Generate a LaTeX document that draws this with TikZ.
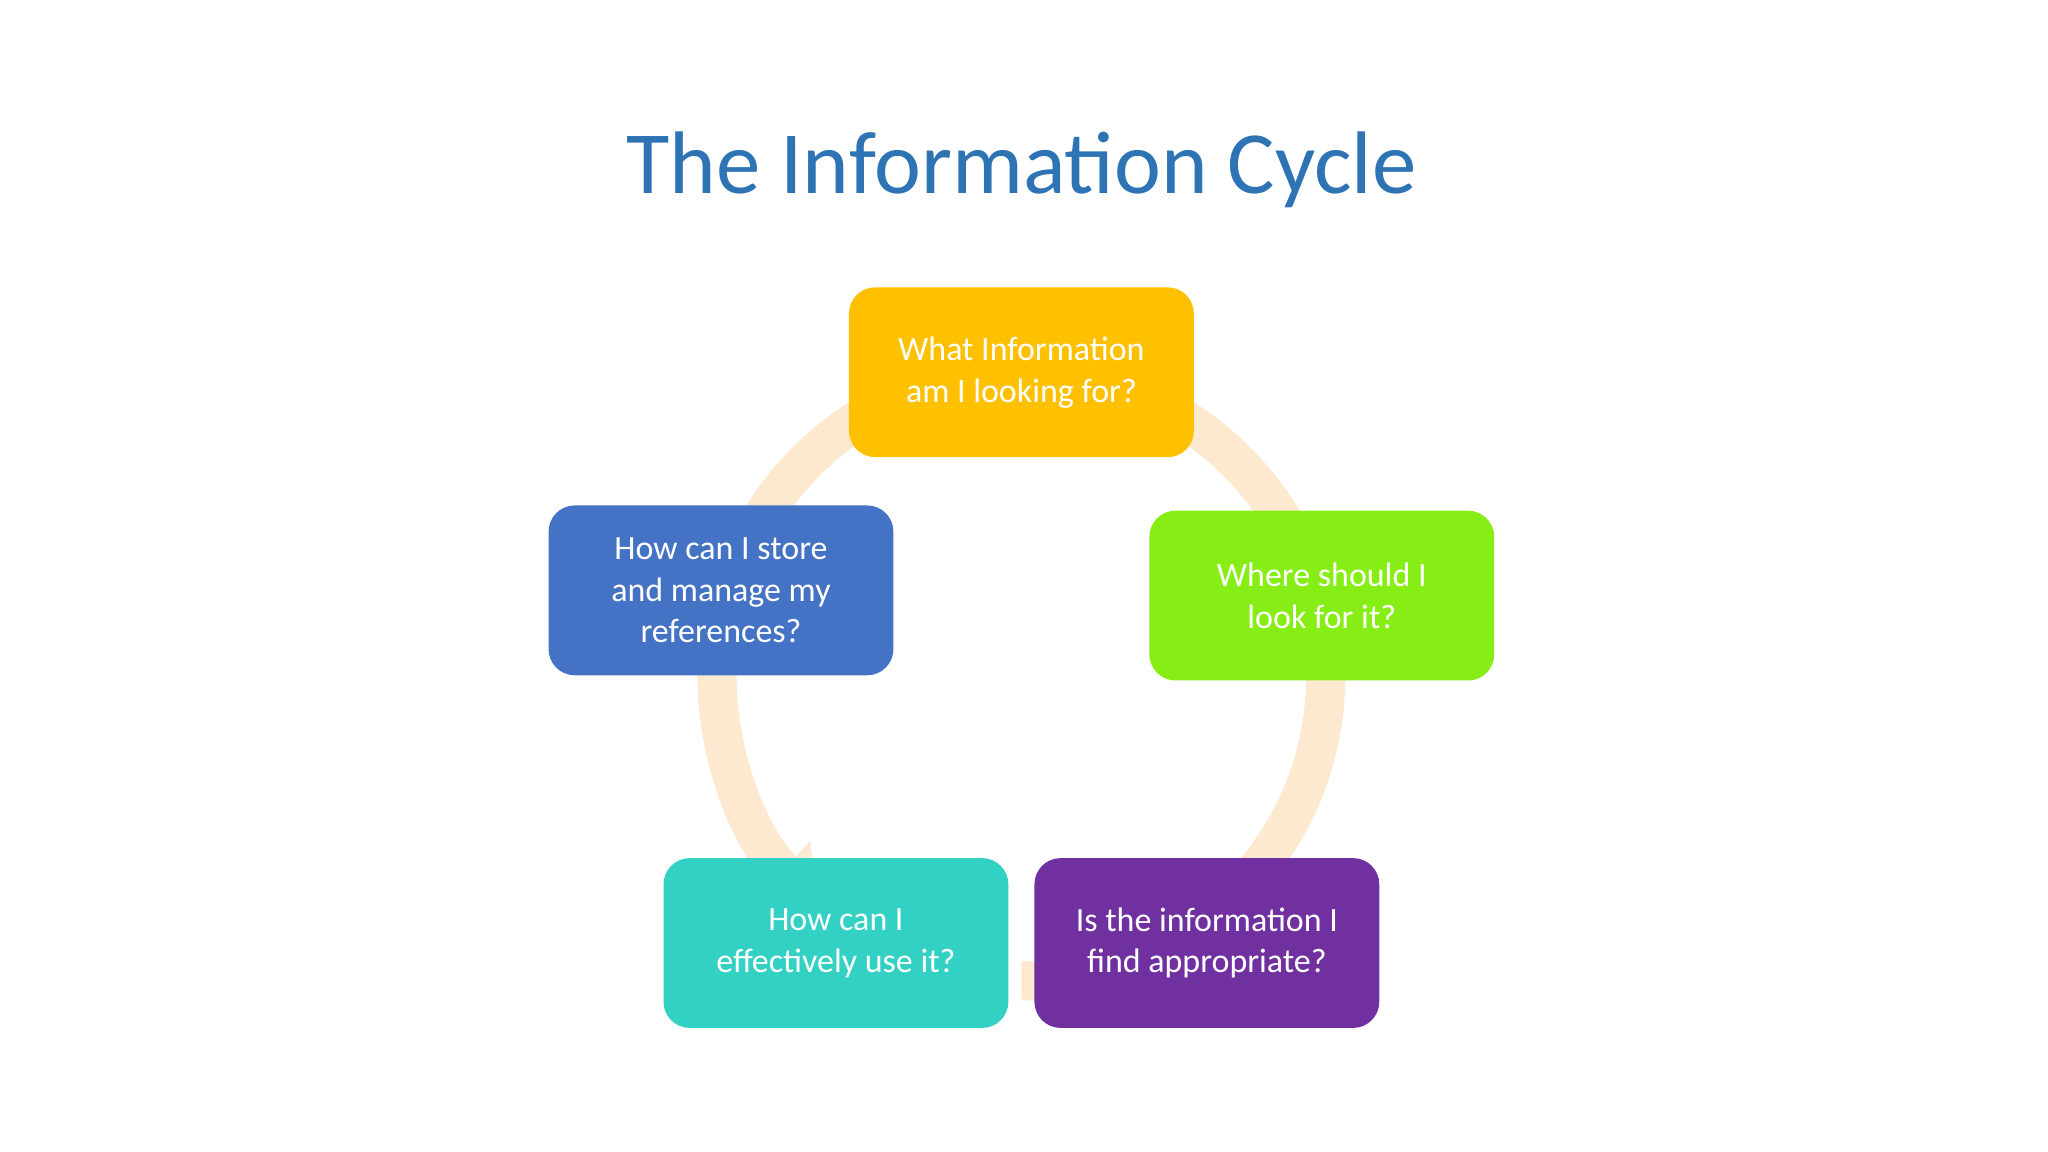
\documentclass[tikz,border=0pt]{standalone}
\usepackage{fontspec}
\setmainfont{Carlito}
\usetikzlibrary{arrows.meta}
\definecolor{ttl}{HTML}{2E74B5}
\definecolor{ring}{HTML}{FDE8D0}
\definecolor{cy}{HTML}{FFC000}
\definecolor{cg}{HTML}{86EE14}
\definecolor{cp}{HTML}{7030A0}
\definecolor{ct}{HTML}{33D1C4}
\definecolor{cb}{HTML}{4472C4}
\tikzset{box/.style={fill=#1,rounded corners=10pt,minimum width=132pt,minimum height=65pt,text=white,align=center,font=\fontsize{13}{16}\selectfont,inner sep=0pt}}
\begin{document}
\begin{tikzpicture}[x=0.5pt,y=-0.5pt]
\useasboundingbox[fill=white] (0,0) rectangle (1568,882);
\node[text=ttl,font=\fontsize{34}{40}\selectfont] (t) at (782,130) {The Information Cycle};
\coordinate (c) at (782,518);
\draw[ring,line width=15pt,-{Triangle[width=30pt,length=18pt]}] ([shift={(90:233)}]c) arc[start angle=90,end angle=-228,radius=233];
\node[box=cy] (a) at (782,285) {What Information\\am I looking for?};
\node[box=cg] (b) at (1012,456) {Where should I\\look for it?};
\node[box=cp] (d) at (924,722) {Is the information I\\find appropriate?};
\node[box=ct] (e) at (640,722) {How can I\\effectively use it?};
\node[box=cb] (f) at (552,452) {How can I store\\and manage my\\references?};
\end{tikzpicture}
\end{document}
